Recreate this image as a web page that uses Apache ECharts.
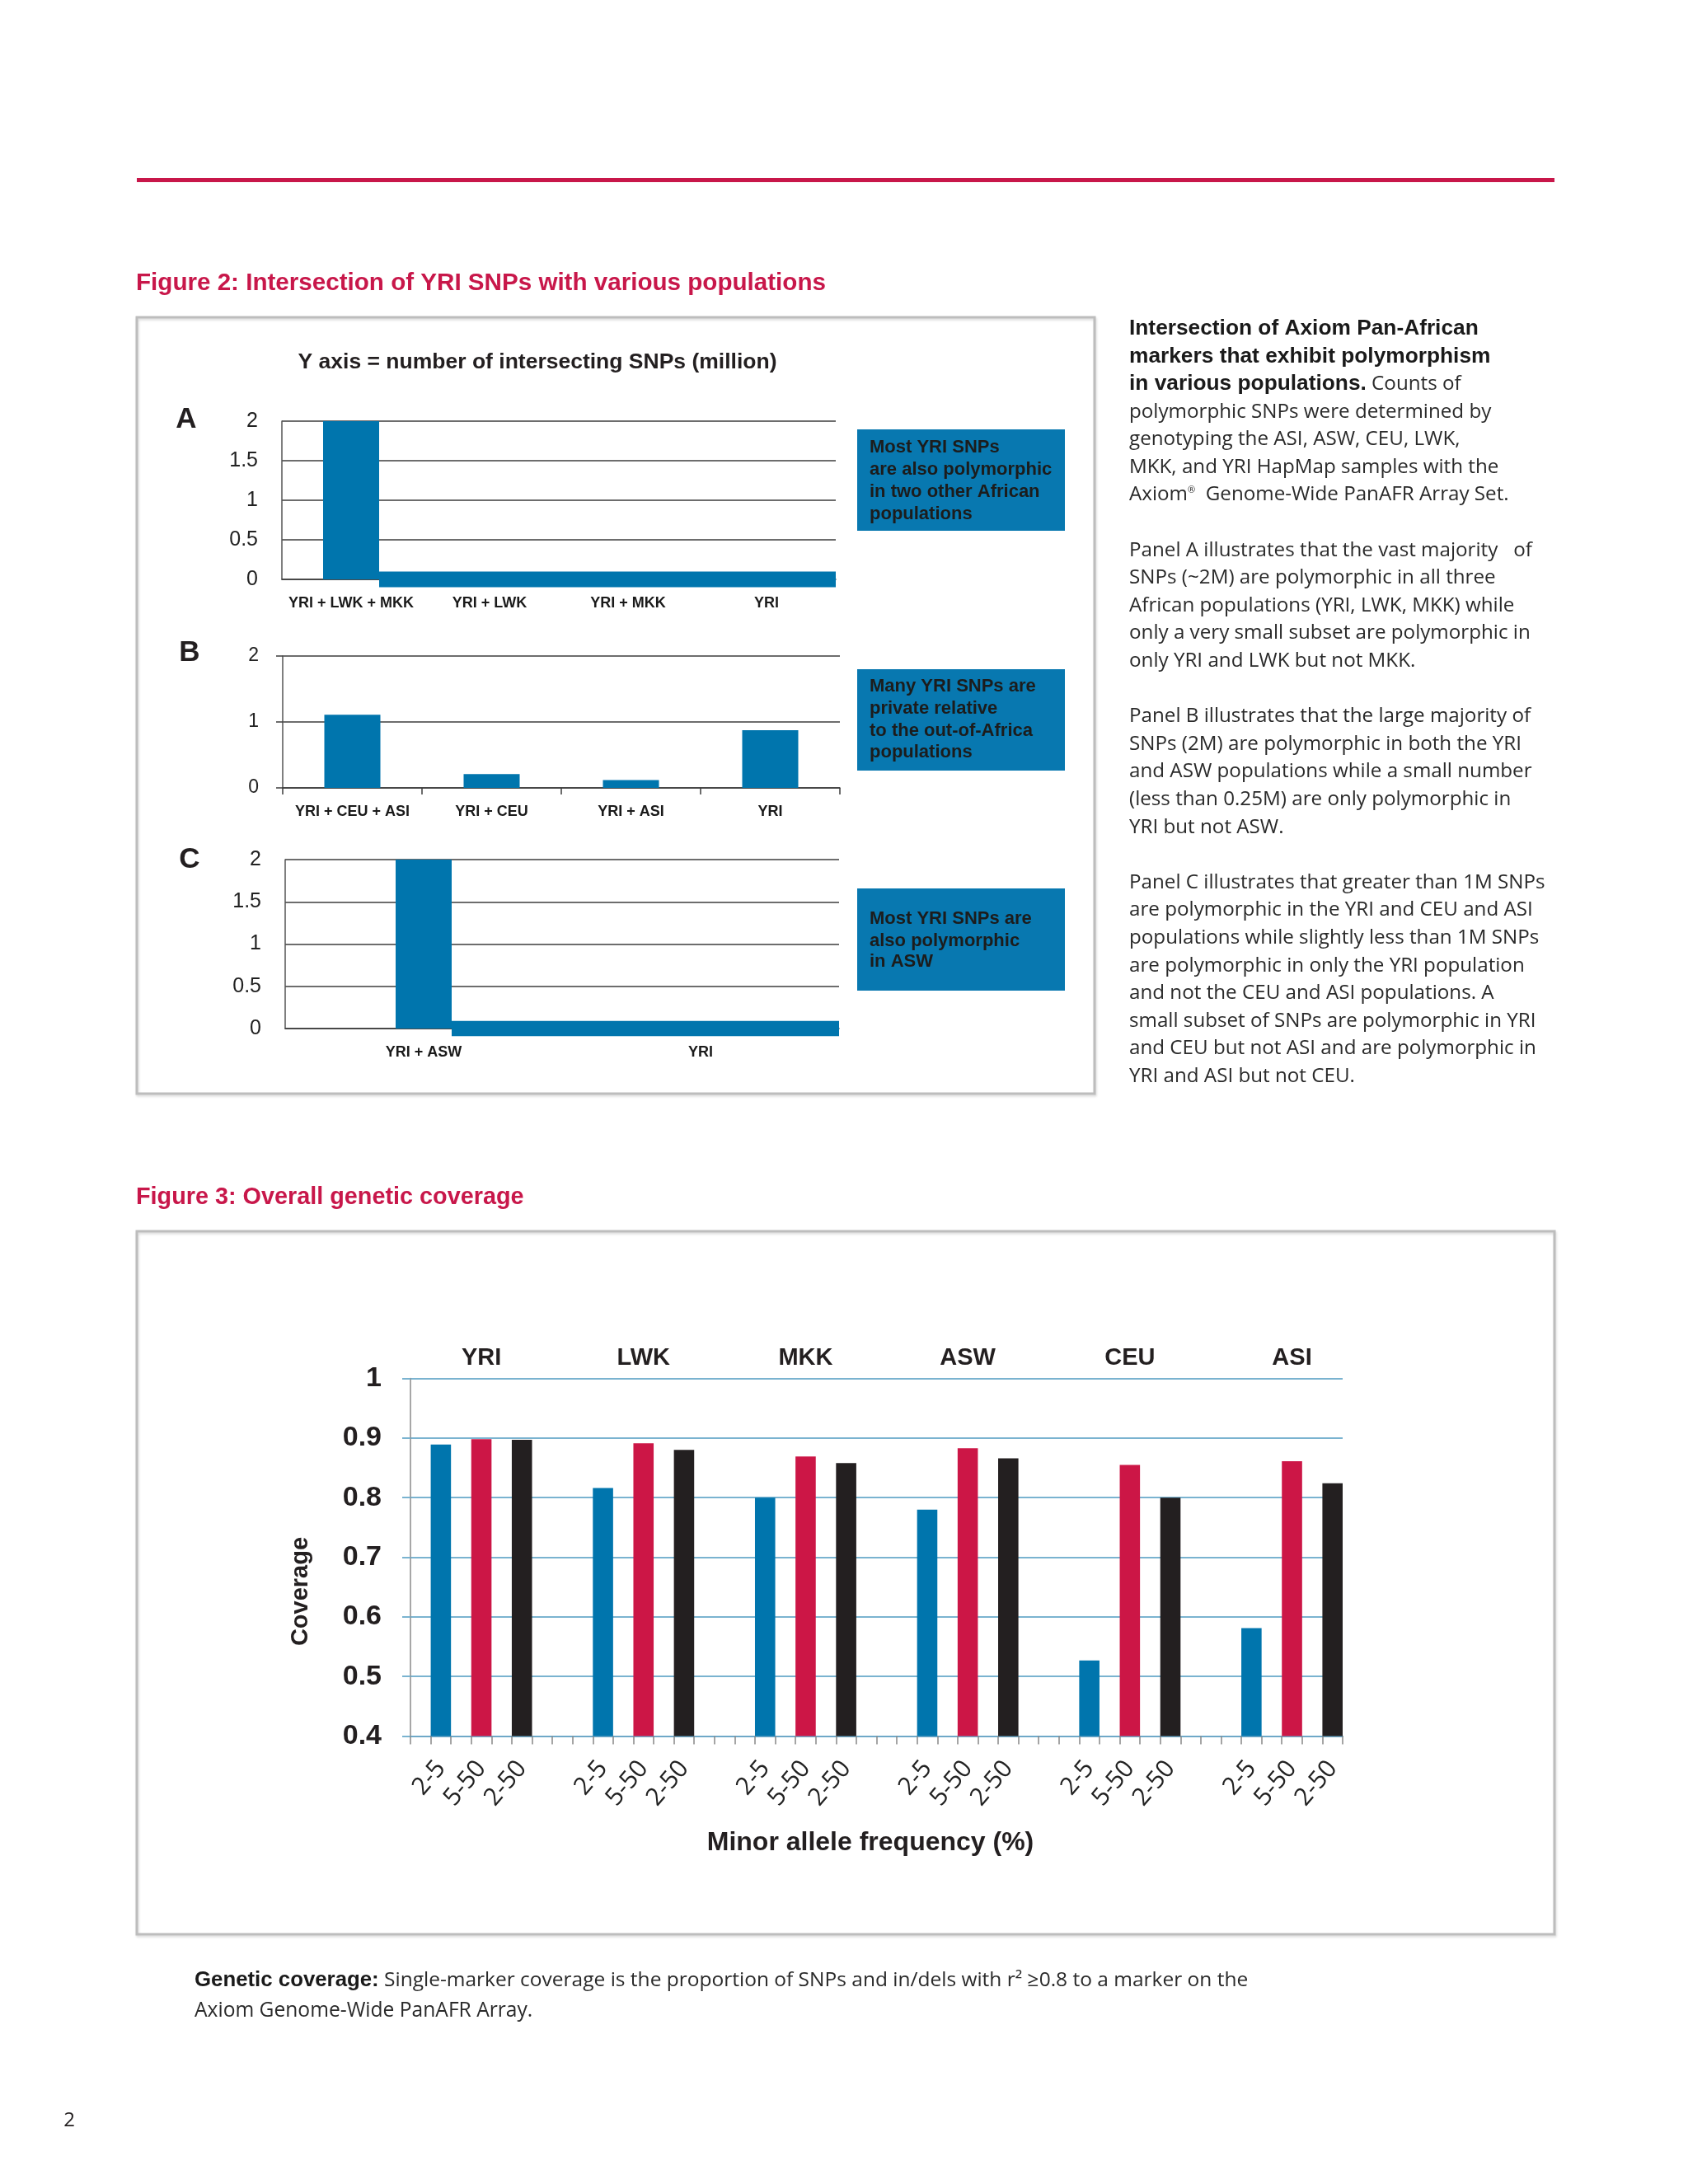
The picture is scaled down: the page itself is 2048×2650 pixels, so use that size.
<!DOCTYPE html>
<html><head><meta charset="utf-8">
<script src="https://cdn.jsdelivr.net/npm/echarts@6/dist/echarts.min.js"></script>
<style>html,body{margin:0;padding:0;background:#fff}#c{width:2048px;height:2650px}</style>
</head><body><div id="c"></div><script>
// ---------- Figure 2 data (million SNPs) ----------
const catsA = ['YRI + LWK + MKK', 'YRI + LWK', 'YRI + MKK', 'YRI'];
const valsA = [2.0, 0.1, 0.1, 0.1];
const catsB = ['YRI + CEU + ASI', 'YRI + CEU', 'YRI + ASI', 'YRI'];
const valsB = [1.11, 0.21, 0.12, 0.875];
const catsC = ['YRI + ASW', 'YRI'];
const valsC = [2.0, 0.09];

// ---------- Figure 3 data (coverage) ----------
const populations = ['YRI', 'LWK', 'MKK', 'ASW', 'CEU', 'ASI'];
const mafLabels = ['2-5', '5-50', '2-50'];
const cov2_5  = [0.889, 0.816, 0.800, 0.780, 0.527, 0.581];
const cov5_50 = [0.898, 0.891, 0.869, 0.883, 0.855, 0.861];
const cov2_50 = [0.897, 0.880, 0.858, 0.866, 0.800, 0.824];
const yTicks3 = [0.4, 0.5, 0.6, 0.7, 0.8, 0.9, 1];

const BLUE = '#0075ad', RED = '#cc1646', BLACK = '#231f20', TITLE_RED = '#c8174a';
const ARIAL = 'Liberation Sans', BODY = 'Open Sans';

// Build figure 3 slot layout: [gap, 2-5, gap, 5-50, gap, 2-50, gap, gap] per population
const slotCats = [], slotLabels = [], groupLabels = [];
const s1 = [], s2 = [], s3 = [];
populations.forEach((p, pi) => {
  const pattern = pi === populations.length - 1 ? 6 : 8;
  for (let k = 0; k < pattern; k++) {
    slotCats.push('s' + slotCats.length);
    const m = (k % 2 === 1 && k < 6) ? (k - 1) / 2 : -1;
    slotLabels.push(m >= 0 ? mafLabels[m] : '');
    groupLabels.push(k === 3 ? p : '');
    s1.push(m === 0 ? cov2_5[pi] : null);
    s2.push(m === 1 ? cov5_50[pi] : null);
    s3.push(m === 2 ? cov2_50[pi] : null);
  }
});

// band renderer for the tiny values drawn as a strip across the baseline
function bandRender(barPx) {
  return function (params, api) {
    const i = api.value(0), v = api.value(1);
    const c = api.coord([i, v]), z = api.coord([i, 0]);
    const w = api.size([1, 0])[0];
    let x0 = c[0] - w / 2;
    const x1 = c[0] + w / 2;
    if (params.dataIndexInside === 0) x0 = c[0] - w + barPx / 2;
    const h = z[1] - c[1];
    return { type: 'rect', shape: { x: x0, y: c[1], width: x1 - x0, height: 2 * h }, style: { fill: BLUE } };
  };
}
const bigA = valsA.map(v => v >= 0.5 ? v : null);
const bandA = valsA.map((v, i) => [i, v]).filter(d => d[1] < 0.5);
const bigC = valsC.map(v => v >= 0.5 ? v : null);
const bandC = valsC.map((v, i) => [i, v]).filter(d => d[1] < 0.5);

const GRIDC = '#3c3c3c';
function f2x(cats, gi, ticks) {
  return { gridIndex: gi, type: 'category', data: cats,
    axisLine: { show: true, lineStyle: { color: GRIDC, width: 1.5 } },
    axisTick: { show: ticks, length: 8, lineStyle: { color: GRIDC, width: 1.5 } },
    axisLabel: { interval: 0, margin: 20, fontSize: 18, fontWeight: 'bold', color: '#1a1a1a', fontFamily: ARIAL } };
}
function f2y(gi, interval, fs, ticks) {
  return { gridIndex: gi, type: 'value', min: 0, max: 2, interval: interval,
    axisLine: { show: true, lineStyle: { color: '#555', width: 1.5 } },
    axisTick: { show: ticks, length: 8, lineStyle: { color: GRIDC, width: 1.5 } },
    splitLine: { lineStyle: { color: GRIDC, width: 1.5 } },
    axisLabel: { margin: 29, fontSize: fs, color: '#222', fontFamily: ARIAL } };
}

// ---------- page texts ----------
const g = [];
function txt(x, y, text, o) {
  g.push({ type: 'text', x: x, y: y, rotation: o.rot || 0, style: Object.assign({ text: text, fill: '#231f20',
    fontFamily: ARIAL, fontSize: 24, align: 'left', verticalAlign: 'middle' }, o.style || {}) });
}
g.push({ type: 'rect', shape: { x: 166, y: 216, width: 1720, height: 5 }, style: { fill: TITLE_RED } });
txt(165, 344, 'Figure 2: Intersection of YRI SNPs with various populations', { style: { fontSize: 29.6, fontWeight: 'bold', fill: TITLE_RED } });
g.push({ type: 'rect', shape: { x: 166, y: 385, width: 1162, height: 942 }, style: { fill: 'none', stroke: '#bdbdbd', lineWidth: 3, shadowBlur: 3, shadowColor: 'rgba(0,0,0,0.15)', shadowOffsetX: 1, shadowOffsetY: 2 } });
txt(652, 440, 'Y axis = number of intersecting SNPs (million)', { style: { fontSize: 26.5, fontWeight: 'bold', align: 'center' } });
txt(226, 509, 'A', { style: { fontSize: 35, fontWeight: 'bold', align: 'center' } });
txt(230, 792, 'B', { style: { fontSize: 35, fontWeight: 'bold', align: 'center' } });
txt(230, 1043, 'C', { style: { fontSize: 35, fontWeight: 'bold', align: 'center' } });

const boxes = [
  { y: 521, h: 123, lines: ['Most YRI SNPs', 'are also polymorphic', 'in two other African', 'populations'], ly: [543, 570, 597, 624] },
  { y: 812, h: 123, lines: ['Many YRI SNPs are', 'private relative', 'to the out-of-Africa', 'populations'], ly: [833, 860, 887, 913] },
  { y: 1078, h: 124, lines: ['Most YRI SNPs are', 'also polymorphic', 'in ASW'], ly: [1115, 1142, 1167] }
];
boxes.forEach(b => {
  g.push({ type: 'rect', shape: { x: 1040, y: b.y, width: 252, height: b.h }, style: { fill: '#0878b0' } });
  b.lines.forEach((l, i) => txt(1055, b.ly[i], l, { style: { fontSize: 22, fontWeight: 'bold', fill: '#1c1c1c' } }));
});

// right-hand description
const para = [
  ['b', 'Intersection of Axiom Pan-African'],
  ['b', 'markers that exhibit polymorphism'],
  ['r', '{b|in various populations.} Counts of'],
  ['n', 'polymorphic SNPs were determined by'],
  ['n', 'genotyping the ASI, ASW, CEU, LWK,'],
  ['n', 'MKK, and YRI HapMap samples with the'],
  ['r', 'Axiom{s|®}  Genome-Wide PanAFR Array Set.'],
  ['', ''],
  ['n', 'Panel A illustrates that the vast majority   of'],
  ['n', 'SNPs (~2M) are polymorphic in all three'],
  ['n', 'African populations (YRI, LWK, MKK) while'],
  ['n', 'only a very small subset are polymorphic in'],
  ['n', 'only YRI and LWK but not MKK.'],
  ['', ''],
  ['n', 'Panel B illustrates that the large majority of'],
  ['n', 'SNPs (2M) are polymorphic in both the YRI'],
  ['n', 'and ASW populations while a small number'],
  ['n', '(less than 0.25M) are only polymorphic in'],
  ['n', 'YRI but not ASW.'],
  ['', ''],
  ['n', 'Panel C illustrates that greater than 1M SNPs'],
  ['n', 'are polymorphic in the YRI and CEU and ASI'],
  ['n', 'populations while slightly less than 1M SNPs'],
  ['n', 'are polymorphic in only the YRI population'],
  ['n', 'and not the CEU and ASI populations. A'],
  ['n', 'small subset of SNPs are polymorphic in YRI'],
  ['n', 'and CEU but not ASI and are polymorphic in'],
  ['n', 'YRI and ASI but not CEU.']
];
para.forEach((p, i) => {
  if (!p[0]) return;
  const y = 399 + 33.6 * i;
  if (p[0] === 'b') txt(1370, y, p[1], { style: { fontSize: 26.3, fontWeight: 'bold', fill: '#1a1a1a' } });
  else txt(1370, y, p[1], { style: { fontSize: 24.2, fontFamily: BODY, fill: '#2a2a2a',
    rich: { b: { fontSize: 26.3, fontWeight: 'bold', fontFamily: ARIAL, fill: '#1a1a1a' }, s: { fontSize: 11, fontFamily: BODY, fill: '#2a2a2a', padding: [0, 0, 12, 0] } } } });
});

txt(165, 1453, 'Figure 3: Overall genetic coverage', { style: { fontSize: 28.8, fontWeight: 'bold', fill: TITLE_RED } });
g.push({ type: 'rect', shape: { x: 166, y: 1494, width: 1720, height: 853 }, style: { fill: 'none', stroke: '#bdbdbd', lineWidth: 3, shadowBlur: 3, shadowColor: 'rgba(0,0,0,0.15)', shadowOffsetX: 1, shadowOffsetY: 2 } });
txt(365, 1931, 'Coverage', { rot: Math.PI / 2, style: { fontSize: 29, fontWeight: 'bold', align: 'center' } });
txt(1056, 2236, 'Minor allele frequency (%)', { style: { fontSize: 32, fontWeight: 'bold', align: 'center' } });
txt(236, 2403, '{b|Genetic coverage:} Single-marker coverage is the proportion of SNPs and in/dels with r² ≥0.8 to a marker on the',
  { style: { fontSize: 24.5, fontFamily: BODY, fill: '#2a2a2a', rich: { b: { fontSize: 25.8, fontWeight: 'bold', fontFamily: ARIAL, fill: '#1a1a1a' } } } });
txt(236, 2440, 'Axiom Genome-Wide PanAFR Array.', { style: { fontSize: 24.6, fontFamily: BODY, fill: '#2a2a2a' } });
txt(84, 2573, '2', { style: { fontSize: 24, fontFamily: BODY, align: 'center' } });

const chart = echarts.init(document.getElementById('c'), null, { renderer: 'canvas' });
chart.setOption({
  backgroundColor: '#ffffff',
  animation: false,
  grid: [
    { left: 342, top: 511, width: 672, height: 192 },
    { left: 343, top: 796, width: 676, height: 160 },
    { left: 346, top: 1043, width: 672, height: 205 },
    { left: 498, top: 1672.5, width: 1131, height: 434 }
  ],
  xAxis: [
    f2x(catsA, 0, false),
    f2x(catsB, 1, true),
    f2x(catsC, 2, false),
    { gridIndex: 3, type: 'category', data: slotCats,
      axisLine: { show: true, lineStyle: { color: '#6fa8c8', width: 2 } },
      axisTick: { show: true, interval: 0, length: 10, lineStyle: { color: '#888', width: 1.5 } },
      axisLabel: { interval: 0, rotate: 50, margin: 34, fontSize: 30, fontFamily: BODY, color: '#222',
        formatter: (v, i) => slotLabels[i] } },
    { gridIndex: 3, type: 'category', data: slotCats, position: 'top',
      axisLine: { show: false }, axisTick: { show: false },
      axisLabel: { interval: 0, margin: 10, fontSize: 29, fontWeight: 'bold', fontFamily: ARIAL, color: '#231f20',
        formatter: (v, i) => groupLabels[i] } }
  ],
  yAxis: [
    f2y(0, 0.5, 25, false),
    f2y(1, 1, 23, true),
    f2y(2, 0.5, 25, false),
    { gridIndex: 3, type: 'value', min: yTicks3[0], max: yTicks3[yTicks3.length - 1], interval: 0.1,
      axisLine: { show: true, lineStyle: { color: '#8a8a8a', width: 1.5 } },
      axisTick: { show: true, length: 10, lineStyle: { color: '#7ab3d0', width: 2 } },
      splitLine: { lineStyle: { color: '#7ab3d0', width: 2 } },
      axisLabel: { margin: 35, fontSize: 34, fontWeight: 'bold', color: '#231f20', fontFamily: ARIAL,
        formatter: v => String(Math.round(v * 10) / 10) } }
  ],
  series: [
    { type: 'bar', xAxisIndex: 0, yAxisIndex: 0, data: bigA, barWidth: 68, itemStyle: { color: BLUE } },
    { type: 'custom', xAxisIndex: 0, yAxisIndex: 0, data: bandA, renderItem: bandRender(68), encode: { x: 0, y: 1 } },
    { type: 'bar', xAxisIndex: 1, yAxisIndex: 1, data: valsB, barWidth: 68, itemStyle: { color: BLUE } },
    { type: 'bar', xAxisIndex: 2, yAxisIndex: 2, data: bigC, barWidth: 68, itemStyle: { color: BLUE } },
    { type: 'custom', xAxisIndex: 2, yAxisIndex: 2, data: bandC, renderItem: bandRender(68), encode: { x: 0, y: 1 } },
    { type: 'bar', xAxisIndex: 3, yAxisIndex: 3, data: s1, barWidth: '100%', barGap: '-100%', itemStyle: { color: BLUE } },
    { type: 'bar', xAxisIndex: 3, yAxisIndex: 3, data: s2, barWidth: '100%', barGap: '-100%', itemStyle: { color: RED } },
    { type: 'bar', xAxisIndex: 3, yAxisIndex: 3, data: s3, barWidth: '100%', barGap: '-100%', itemStyle: { color: BLACK } }
  ],
  graphic: g
});
</script></body></html>
